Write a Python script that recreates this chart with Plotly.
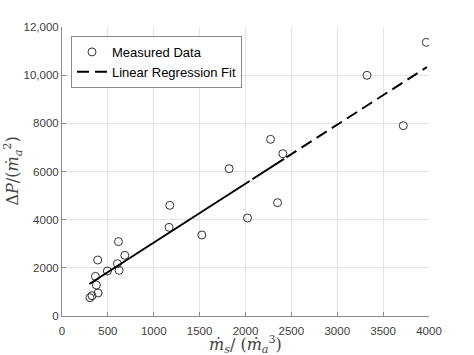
import plotly.graph_objects as go

x_meas = [305, 327, 364, 375, 393, 389, 495, 604, 615, 622, 684,
          1167, 1175, 1524, 1822, 2022, 2273, 2349, 2407, 3324, 3720, 3971]
y_meas = [761, 844, 1647, 1287, 955, 2325, 1868, 2173, 3087, 1896, 2519,
          3682, 4595, 3363, 6118, 4069, 7336, 4706, 6740, 9993, 7903, 11363]

# Linear regression fit coefficients
slope = 2.448
intercept = 600
solid_x = [298, 2045]
solid2_x = [2075, 2420]
dash_x = [2445, 3978]

x_ticks = [0, 500, 1000, 1500, 2000, 2500, 3000, 3500, 4000]
y_ticks = [0, 2000, 4000, 6000, 8000, 10000, 12000]
y_ticktext = ["0", "2000", "4000", "6000", "8000", "10,000", "12,000"]

x_title = "<i>ṁ<sub>s</sub></i>/ (<i>ṁ<sub>a</sub></i><sup>3</sup>)"
y_title = "Δ<i>P</i>/(<i>ṁ<sub>a</sub></i><sup>2</sup>)"

def fit(xs):
    return [slope * v + intercept for v in xs]

fig = go.Figure()
fig.add_trace(go.Scatter(
    x=x_meas, y=y_meas, mode="markers", name="Measured Data",
    marker=dict(symbol="circle-open", size=8, color="#333333", line=dict(width=1))))
fig.add_trace(go.Scatter(
    x=solid_x, y=fit(solid_x), mode="lines", showlegend=False,
    line=dict(color="black", width=2)))
fig.add_trace(go.Scatter(
    x=solid2_x, y=fit(solid2_x), mode="lines", showlegend=False,
    line=dict(color="black", width=2)))
fig.add_trace(go.Scatter(
    x=dash_x, y=fit(dash_x), mode="lines", name="Linear Regression Fit",
    line=dict(color="black", width=2, dash="12px,6px")))

axis_common = dict(
    showgrid=True, gridcolor="#e4e4e4", gridwidth=1,
    showline=True, linecolor="#8c8c8c", linewidth=1, mirror=False,
    ticks="inside", ticklen=4, tickcolor="#8c8c8c",
    tickfont=dict(family="Liberation Sans, Arial", size=11.5, color="#404040"),
    zeroline=False, automargin=False,
)

title_font = dict(family="DejaVu Serif", size=16, color="#444444")

fig.update_layout(
    width=474, height=355,
    margin=dict(l=62, r=45, t=27, b=39),
    paper_bgcolor="white", plot_bgcolor="white",
    xaxis=dict(range=[0, 4000], tickvals=x_ticks, ticklabelstandoff=4, **axis_common),
    yaxis=dict(range=[0, 12000], tickvals=y_ticks, ticktext=y_ticktext, **axis_common),
    legend=dict(x=0.0245, y=0.969, xanchor="left", yanchor="top",
                bgcolor="white", bordercolor="#888888", borderwidth=1,
                font=dict(family="Liberation Sans, Arial", size=13, color="black"),
                tracegroupgap=0, itemwidth=30),
    annotations=[
        dict(text=x_title, xref="paper", yref="paper", x=0.5, y=-0.10,
             xanchor="center", yanchor="middle", showarrow=False, font=title_font),
        dict(text=y_title, xref="paper", yref="paper", x=-0.1335, y=0.5,
             xanchor="center", yanchor="middle", showarrow=False, textangle=-90,
             font=title_font),
    ],
)

fig.write_html("out.html")
